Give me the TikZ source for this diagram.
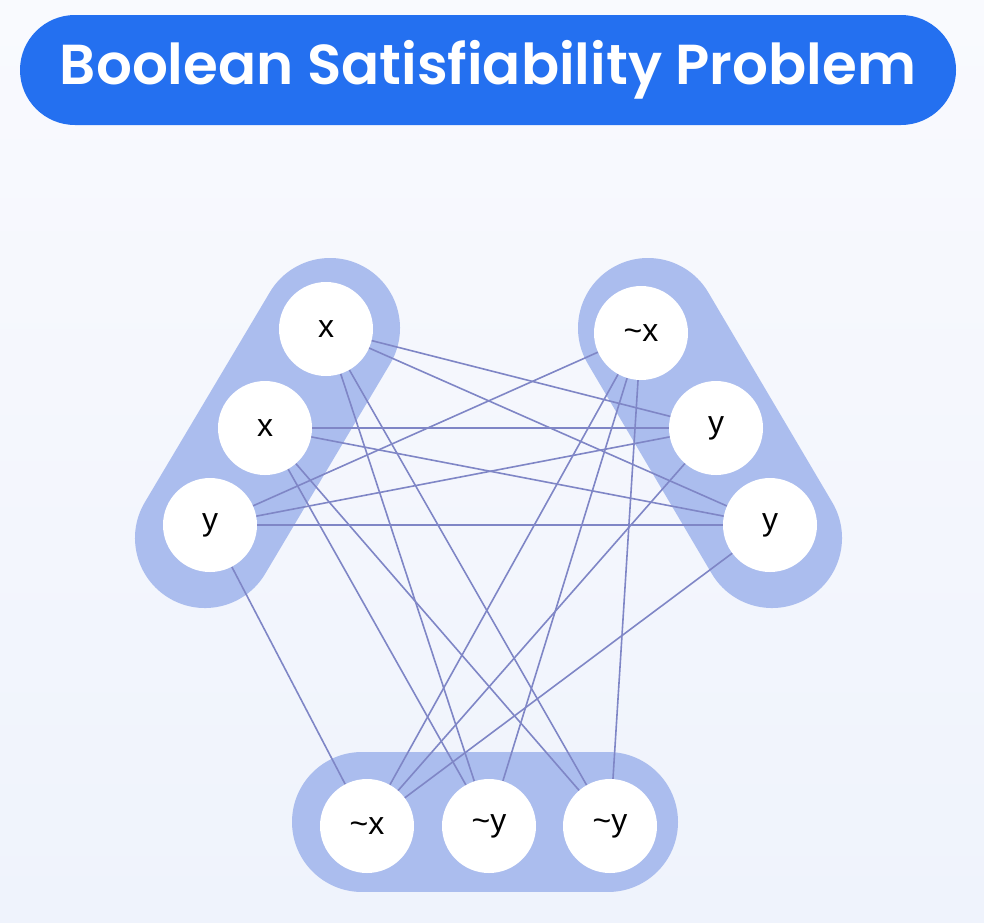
\documentclass[tikz,border=0pt]{standalone}
\usepackage{fontspec}
\setmainfont{Liberation Sans}
\newfontfamily\titlefont{Poppins}[UprightFont=* SemiBold]
\pgfdeclarelayer{bg}\pgfdeclarelayer{blob}\pgfdeclarelayer{edges}
\pgfsetlayers{bg,blob,edges,main}
\definecolor{titleblue}{HTML}{2470F0}
\definecolor{blobc}{HTML}{ABBDEE}
\definecolor{edgec}{HTML}{7F86C6}
\definecolor{bgtop}{HTML}{F9FAFE}
\definecolor{bgbot}{HTML}{EFF3FC}
\tikzset{
  lit/.style={circle,fill=white,minimum size=94pt,inner sep=0pt,font=\fontsize{32}{36}\selectfont},
  blobline/.style={line width=140pt,line cap=round,blobc},
  edge/.style={edgec,line width=1.6pt}
}
\begin{document}
\begin{tikzpicture}[x=1pt,y=-1pt]
\begin{pgfonlayer}{bg}
\shade[top color=bgtop,bottom color=bgbot] (0,0) rectangle (984,922);
\end{pgfonlayer}
\useasboundingbox (0,0) rectangle (984,922);
\node[fill=titleblue,rounded corners=55pt,minimum width=936pt,minimum height=110pt,inner sep=0pt] (title) at (488,70)
  {\resizebox{856pt}{!}{\color{white}\titlefont Boolean Satisfiability Problem}};
\begin{pgfonlayer}{blob}
\draw[blobline] (330,328) -- (205,538);
\draw[blobline] (648,328) -- (772,538);
\draw[blobline] (362,822) -- (608,822);
\end{pgfonlayer}
\node[lit] (x1) at (326,329) {x};
\node[lit] (x2) at (265,428) {x};
\node[lit] (y1) at (210,525) {y};
\node[lit] (nx1) at (641,333) {\textasciitilde x};
\node[lit] (y2) at (716,428) {y};
\node[lit] (y3) at (770,525) {y};
\node[lit] (nx2) at (367,826) {\textasciitilde x};
\node[lit] (ny1) at (489,826) {\textasciitilde y};
\node[lit] (ny2) at (610,826) {\textasciitilde y};
\begin{pgfonlayer}{edges}
\foreach \a/\b in {x1/y2,x1/y3,x1/ny1,x1/ny2,x2/y2,x2/y3,x2/ny1,x2/ny2,
  y1/nx1,y1/y2,y1/y3,y1/nx2,nx1/nx2,nx1/ny1,nx1/ny2,y2/nx2,y3/nx2}
  \draw[edge] (\a.center) -- (\b.center);
\end{pgfonlayer}
\end{tikzpicture}
\end{document}
